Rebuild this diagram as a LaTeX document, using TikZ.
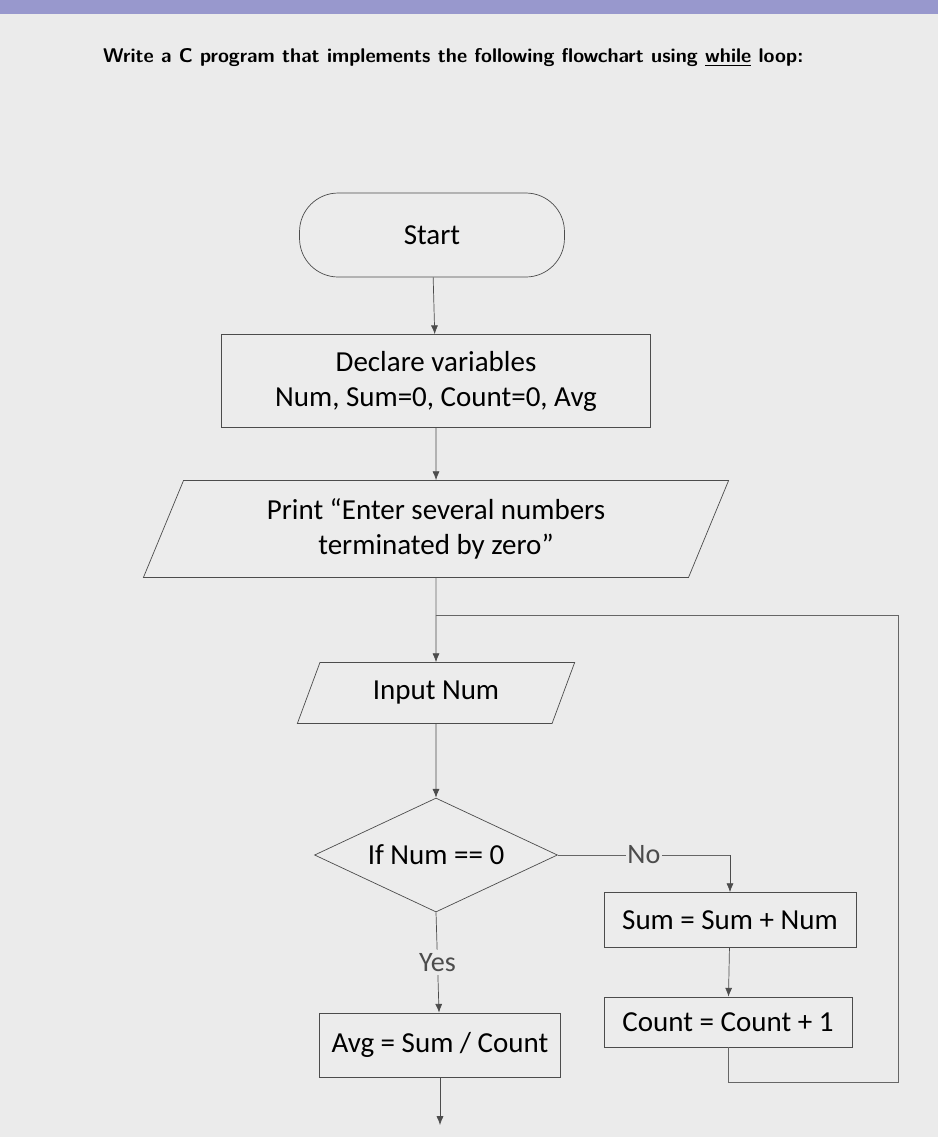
\documentclass[tikz,border=0pt]{standalone}
\usepackage{fontspec}
\setmainfont{Carlito}
\usetikzlibrary{shapes.geometric,arrows.meta,positioning}
\tikzset{
  box/.style={draw=black!70, thin, fill=white!85!gray, minimum height=1.1cm, font=\fontsize{16.5pt}{20pt}\selectfont, align=center},
  io/.style={box, trapezium, trapezium left angle=69, trapezium right angle=111, trapezium stretches=true},
  flow/.style={->, >={Latex[length=5pt,width=4pt]}, black!70, thin},
  line/.style={black!60, thin},
  lbl/.style={fill=black!8, inner sep=1pt, font=\fontsize{16pt}{19pt}\selectfont, text=black!70}
}
\begin{document}
\begin{tikzpicture}[x=0.02cm,y=-0.02cm]
\fill[black!8] (0,0) rectangle (938,1137);
\fill[blue!35!gray!60] (0,0) rectangle (938,14);
\useasboundingbox (0,0) rectangle (938,1137);

\node[font=\sffamily\bfseries\fontsize{11.3pt}{14pt}\selectfont, anchor=west] (title) at (97,58)
  {Write a C program that implements the following flowchart using \underline{while} loop:};

\node[box, rounded corners=22pt, minimum width=5.3cm, minimum height=1.68cm] (start) at (432,235) {Start};
\node[box, minimum width=8.58cm, minimum height=1.86cm] (decl) at (436,381)
  {Declare variables\\Num, Sum=0, Count=0, Avg};
\node[io, minimum width=11.74cm, minimum height=1.94cm] (prompt) at (436,529)
  {Print ``Enter several numbers\\terminated by zero''};
\coordinate (join) at (436,615);
\node[io, minimum width=5.58cm, minimum height=1.22cm] (input) at (436,693) {Input Num};
\node[box, diamond, aspect=2.1, minimum width=4.86cm, minimum height=2.28cm, inner sep=0pt] (test) at (436,855) {If Num == 0};
\node[box, minimum width=5.04cm] (sum) at (730,920) {Sum = Sum + Num};
\node[box, minimum width=4.96cm, minimum height=1.0cm] (count) at (728,1022) {Count = Count + 1};
\node[box, minimum width=4.82cm, minimum height=1.28cm] (avg) at (440,1045) {Avg = Sum / Count};
\coordinate (noturn) at (730,855);
\coordinate (down) at (728,1082);
\coordinate (rb) at (898,1082);
\coordinate (rt) at (898,615);
\coordinate (endp) at (440,1125);

\draw[flow] (start) -- (decl);
\draw[flow] (decl) -- (prompt);
\draw[line] (prompt) -- (join);
\draw[flow] (join) -- (input);
\draw[flow] (input) -- (test);
\draw[line] (test.east) -- node[lbl] {No} (noturn);
\draw[flow] (noturn) -- (sum);
\draw[flow] (sum) -- (count);
\draw[line] (count.south) -- (down) -- (rb) -- (rt) -- (join);
\draw[flow] (test.south) -- node[lbl, inner sep=2pt] {Yes} (avg);
\draw[flow] (avg) -- (endp);
\end{tikzpicture}
\end{document}
